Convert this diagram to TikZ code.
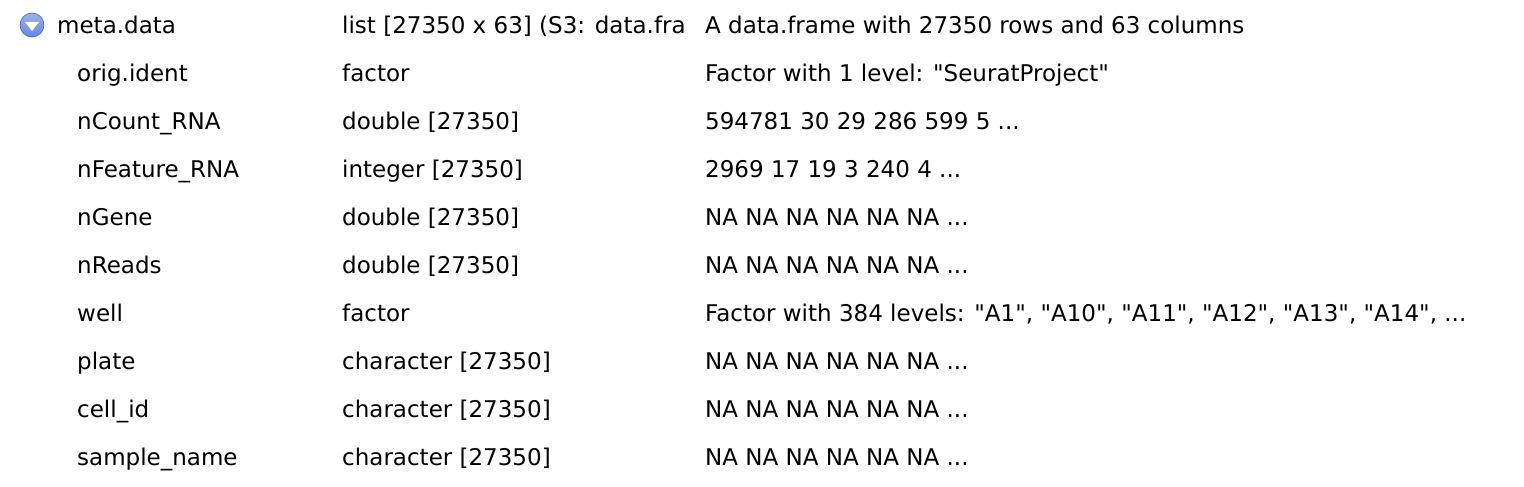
\documentclass[tikz,border=0pt]{standalone}
\usepackage{fontspec}
\newfontfamily\rowfont{DejaVu Sans}
\usepackage{xcolor}
\definecolor{ballblue}{RGB}{104,136,226}
\definecolor{balldark}{RGB}{70,100,190}
\usetikzlibrary{positioning}
\begin{document}
\begin{tikzpicture}[x=1pt, y=-1pt]
\tikzstyle{every node} = [anchor=base west, inner sep=0cm, text=black, font=\fontsize{23}{27}\rowfont]
\useasboundingbox (0,0) rectangle (1524,487);
\node[circle, draw=balldark, line width=.6pt, top color=ballblue!65, bottom color=ballblue, minimum size=24pt, anchor=center] (toggle) at (32,25) {};
\fill[white] (25,22) -- (39,22) -- (32,31) -- cycle;
\node (name0) at (57,33.5) {meta.data};
\node (type0) at (342,33.5) {list [27350 x 63] (S3: data.fra};
\node (value0) at (705,33.5) {A data.frame with 27350 rows and 63 columns};
\foreach \i/\n/\t/\v in {
	1/orig.ident/factor/{Factor with 1 level: "SeuratProject"},
	2/nCount\_RNA/double [27350]/{594781 30 29 286 599 5 ...},
	3/nFeature\_RNA/integer [27350]/{2969 17 19 3 240 4 ...},
	4/nGene/double [27350]/{NA NA NA NA NA NA ...},
	5/nReads/double [27350]/{NA NA NA NA NA NA ...},
	6/well/factor/{Factor with 384 levels: "A1", "A10", "A11", "A12", "A13", "A14", ...},
	7/plate/character [27350]/{NA NA NA NA NA NA ...},
	8/cell\_id/character [27350]/{NA NA NA NA NA NA ...},
	9/sample\_name/character [27350]/{NA NA NA NA NA NA ...}}
{
	\node (name\i) at (77,33.5+48*\i) {\n};
	\node (type\i) at (342,33.5+48*\i) {\t};
	\node (value\i) at (705,33.5+48*\i) {\v};
}
\end{tikzpicture}
\end{document}
